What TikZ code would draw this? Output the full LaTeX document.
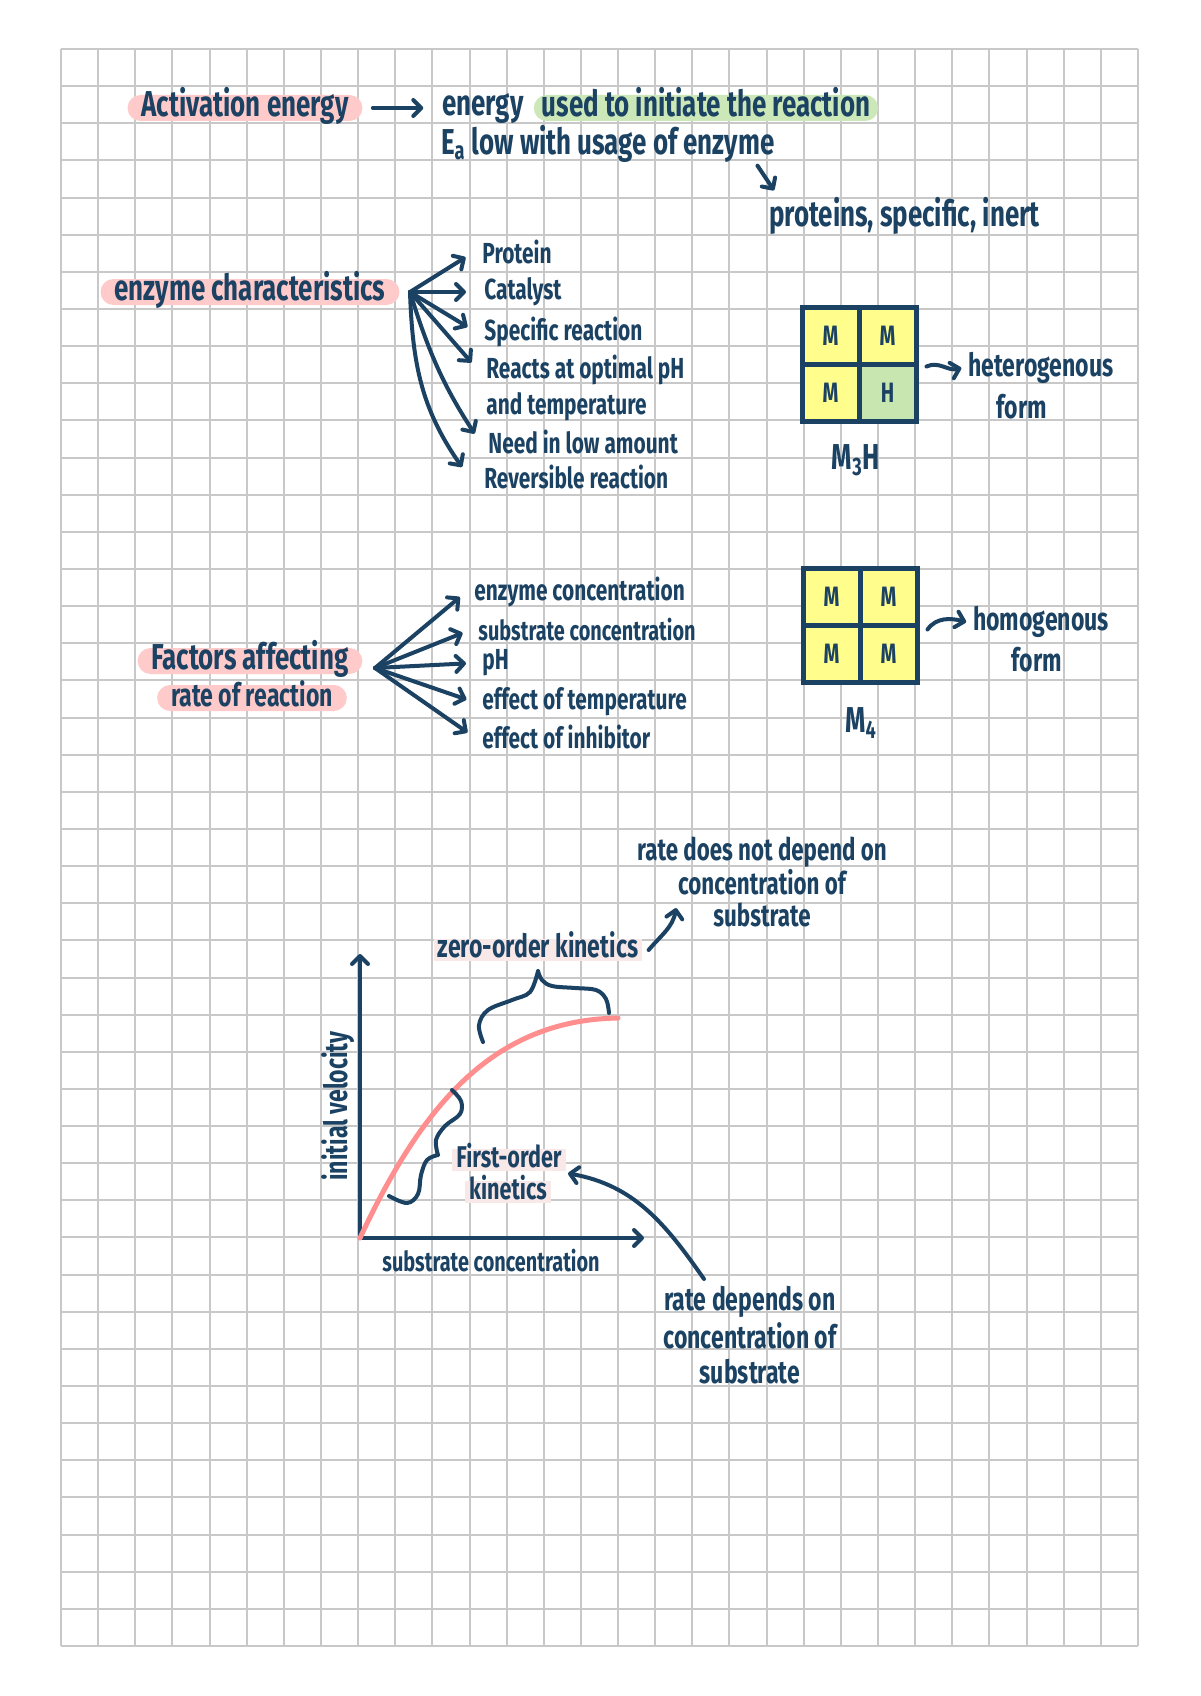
\documentclass[tikz,border=0pt]{standalone}
\usepackage{fontspec}
\usepackage{tikz}
\usetikzlibrary{positioning,arrows.meta}
\newfontfamily\hand[FakeStretch=0.72]{Fira Sans}
\definecolor{cink}{RGB}{27,66,98}
\definecolor{cgrid}{RGB}{200,200,200}
\definecolor{cpink}{RGB}{255,202,202}
\definecolor{cgreen}{RGB}{204,232,184}
\definecolor{cyel}{RGB}{255,253,140}
\definecolor{chg}{RGB}{200,230,176}
\definecolor{cfaint}{RGB}{249,232,232}
\definecolor{ccurve}{RGB}{255,143,143}

\begin{document}
\begin{tikzpicture}[
  x=0.5pt,y=-0.5pt,
  every node/.style={text=cink},
  big/.style={font=\hand\bfseries\fontsize{18}{18}\selectfont},
  mid/.style={font=\hand\bfseries\fontsize{16}{16}\selectfont},
  sm/.style={font=\hand\bfseries\fontsize{14.5}{15}\selectfont},
  hl/.style={fill=#1,rounded corners=6.5pt,inner xsep=7pt,inner ysep=1.75pt,text height=9pt,text depth=0.5pt},
  fh/.style={font=\hand\bfseries\fontsize{15}{15}\selectfont,fill=cfaint,inner xsep=2pt,inner ysep=0pt,text height=9pt,text depth=2pt},
  it/.style={sm,anchor=west,inner sep=4pt},
  a/.style={-{Straight Barb[length=4pt,width=8pt,round]},cink,line width=2pt,line cap=round},
  cell/.style={draw=cink,line width=2.5pt,fill=cyel,minimum size=28.5pt,inner sep=0,font=\hand\bfseries\fontsize{14}{14}\selectfont},
  brace/.style={cink,line width=2pt,line cap=round,line join=round},
]
\fill[white] (0,0) rectangle (1200,1696);
\useasboundingbox (0,0) rectangle (1200,1696);
\begin{scope}[shift={(61,1646)},x=18.569pt,y=18.569pt]
  \draw[cgrid,line width=1pt,step=18.569pt] (0,0) grid (29.01,43.01);
\end{scope}
% --- activation energy ---
\node[big,hl=cpink] (act) at (245,108) {Activation energy};
\node[big] (en) at (483,108) {energy};
\node[big,hl=cgreen,inner xsep=4pt] (used) at (706,108) {used to initiate the reaction};
\draw[a,shorten <=5pt,shorten >=6pt] (act) -- (en);
\node[big,anchor=west] (ea) at (434,144) {E\textsubscript{a} low with usage of enzyme};
\node[big,anchor=west] (pse) at (762,216) {proteins, specific, inert};
\draw[a] ([xshift=-12pt,yshift=2pt]ea.south east) -- ([xshift=6pt]pse.north west);
% --- enzyme characteristics ---
\node[big,hl=cpink] (char) at (250,292) {enzyme characteristics};
\coordinate (fa) at (410,292);
\node[it] (i1) at (474,252) {Protein};
\node[it] (i2) at (476,292) {Catalyst};
\node[it] (i3) at (476,332) {Specific reaction};
\node[it] (i4) at (478,370) {Reacts at optimal pH};
\node[it] (i5) at (478,407) {and temperature};
\node[it] (i6) at (480,442) {Need in low amount};
\node[it] (i7) at (476,477) {Reversible reaction};
\draw[a,shorten >=5pt] (fa) -- (i1.west);
\draw[a,shorten >=5pt] (fa) -- (i2.west);
\draw[a,shorten >=5pt] (fa) -- (i3.west);
\draw[a,shorten >=5pt] (fa) -- (i4.west);
\draw[a,shorten >=5pt] (fa) to[bend right=8] (i6.west);
\draw[a] (fa) to[out=-88,in=125] ([xshift=-7pt,yshift=5pt]i7.west);
% --- M3H ---
\node[cell] (b1) at (830.5,335.5) {M};
\node[cell] (b2) at (887.5,335.5) {M};
\node[cell] (b3) at (830.5,392.5) {M};
\node[cell,fill=chg] (b4) at (887.5,392.5) {H};
\node[big] (lb1) at (856,460) {M\textsubscript{3}H};
\node[mid] (het1) at (1041,368) {heterogenous};
\node[mid] (het2) at (1022,407) {form};
\draw[a] ([xshift=4pt]b2.south east) to[out=25,in=195] (het1.west);
% --- factors ---
\node[big,hl=cpink] (fac1) at (250,661) {Factors affecting};
\node[mid,hl=cpink] (fac2) at (252,698) {rate of reaction};
\coordinate (fb) at (375,668);
\node[it] (f1) at (466,592) {enzyme concentration};
\node[it,font=\hand\bfseries\fontsize{13.8}{14}\selectfont] (f2) at (470,630) {substrate concentration};
\node[it] (f3) at (474,663) {pH};
\node[it] (f4) at (474,702) {effect of temperature};
\node[it] (f5) at (474,737) {effect of inhibitor};
\draw[a,shorten >=4pt] (fb) -- (f1.west);
\draw[a,shorten >=4pt] (fb) -- (f2.west);
\draw[a,shorten >=4pt] (fb) -- (f3.west);
\draw[a,shorten >=4pt] (fb) -- (f4.west);
\draw[a,shorten >=4pt] (fb) -- (f5.west);
% --- M4 ---
\node[cell] (c1) at (831.5,596.5) {M};
\node[cell] (c2) at (888.5,596.5) {M};
\node[cell] (c3) at (831.5,653.5) {M};
\node[cell] (c4) at (888.5,653.5) {M};
\node[big] (lb2) at (861,723) {M\textsubscript{4}};
\node[mid] (hom1) at (1041,622) {homogenous};
\node[mid] (hom2) at (1037,660) {form};
\draw[a] ([xshift=4pt,yshift=-1pt]c2.south east) to[out=55,in=165] (hom1.west);
% --- graph ---
\coordinate (o) at (360,1238);
\coordinate (ytop) at (360,954);
\coordinate (xend) at (644,1238);
\draw[a] (o) -- (ytop);
\draw[a] (o) -- (xend);
\draw[ccurve,line width=2.5pt,line cap=round] (o) .. controls (420,1110) and (490,1020) .. (618,1018);
\draw[brace] plot[smooth,tension=0.6] coordinates {(483,1042) (479,1025) (488,1010) (512,1000) (530,992) (538,971)}
  plot[smooth,tension=0.6] coordinates {(538,971) (542,980) (552,986) (575,988) (596,990) (606,999) (609,1013)};
\draw[brace] plot[smooth,tension=0.6] coordinates {(452,1090) (461,1101) (460,1114) (445,1126) (436,1140) (438,1155)}
  plot[smooth,tension=0.6] coordinates {(438,1155) (427,1160) (421,1175) (418,1194) (407,1203) (389,1196)};
\node[mid,fill=cfaint,inner xsep=2pt,inner ysep=0pt,text height=9pt,text depth=2pt] (zero) at (538,950) {zero-order kinetics};
\node[align=center,font=\hand\bfseries\fontsize{15.5}{16}\selectfont] (rdn) at (762,882) {rate does not depend on\\concentration of\\substrate};
\draw[a] ([xshift=3pt]zero.east) to[out=50,in=-100] ([xshift=23pt,yshift=13pt]rdn.south west);
\node[fh] (fo1) at (509,1160) {First-order};
\node[fh] (fo2) at (508,1192) {kinetics};
\node[mid,align=center] (rdo) at (750,1335) {rate depends on\\[1.5pt]concentration of\\[1.5pt]substrate};
\draw[a] ([xshift=-23pt]rdo.north) to[out=125,in=-10] ([xshift=1pt,yshift=-1pt]fo1.south east);
\node[mid,rotate=90] (yl) at (338,1106) {initial velocity};
\node[font=\hand\bfseries\fontsize{13.8}{14}\selectfont] (xl) at (491,1261) {substrate concentration};
\end{tikzpicture}
\end{document}
